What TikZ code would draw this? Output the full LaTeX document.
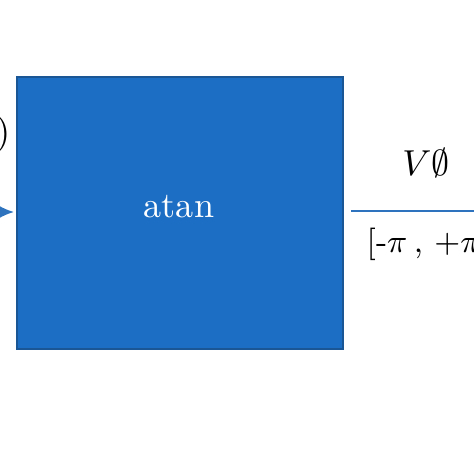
\documentclass[tikz,border=0pt]{standalone}
\usepackage{amsmath,amssymb}
\usepackage{xcolor}
\usetikzlibrary{arrows.meta,positioning}

\definecolor{boxblue}{HTML}{1C6EC4}
\definecolor{boxedge}{HTML}{1A5596}
\definecolor{wireblue}{HTML}{2E73BE}

\begin{document}
\begin{tikzpicture}[x=0.277pt, y=-0.277pt,
    blockbox/.style={rectangle, fill=boxblue, draw=boxedge, line width=0.5pt,
        minimum width=90.3pt, minimum height=75.3pt, inner sep=0pt},
    wire/.style={wireblue, line width=0.55pt}]
    \useasboundingbox (0,0) rectangle (474,474);

    % ブロック
    \node[blockbox] (atan) at (180,213) {};
    \node[text=white, inner sep=0pt] (atan-t) at (179,207) {atan};

    % 入力
    \node[inner sep=0pt, anchor=east] (in-l) at (11,134) {$)$};
    \coordinate (in) at (-60,212);
    \draw[wire, -{Latex[length=4.5pt,width=4pt]}, shorten >=0.6pt] (in) -- (in -| atan.west);

    % 出力
    \coordinate (out) at (540,211);
    \draw[wire, shorten <=2pt] (out -| atan.east) -- (out);
    \node[inner sep=0pt] (out-v) at (426,163) {$V\emptyset$};
    \node[inner sep=0pt, anchor=west, font=\small] (out-r) at (366,244) {[-$\pi$\hspace{0.2em}, +$\pi$};
\end{tikzpicture}
\end{document}
